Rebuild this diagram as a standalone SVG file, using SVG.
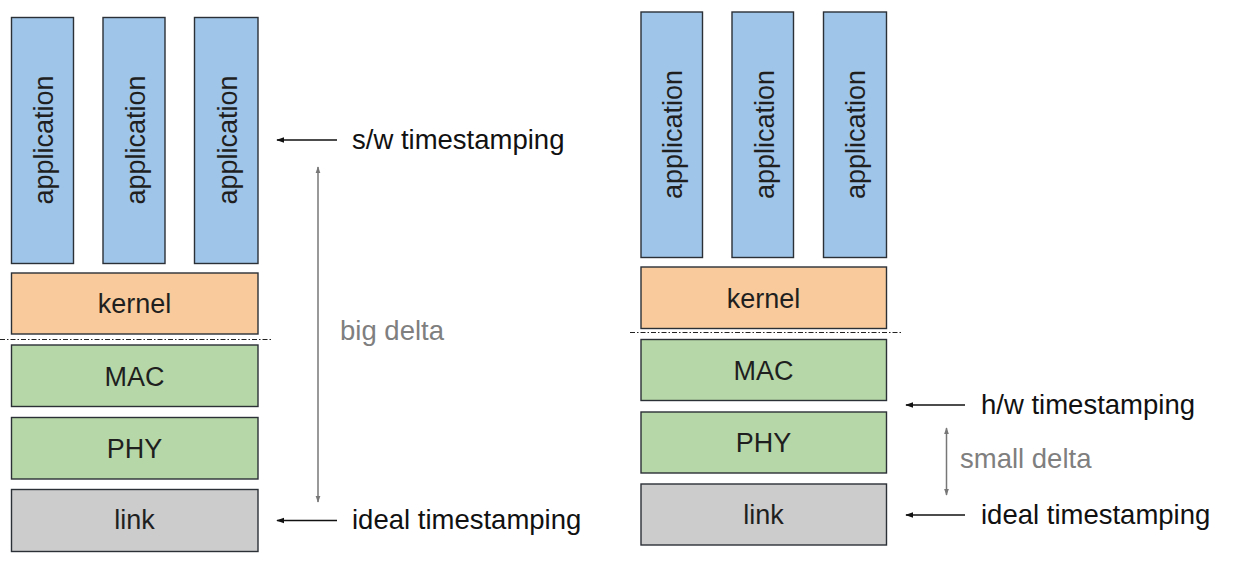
<svg xmlns="http://www.w3.org/2000/svg" width="1248" height="563" viewBox="0 0 1248 563">
<defs>
<style>
.box{stroke:#2b2f36;stroke-width:1.4}
.app{fill:#9fc5e8}
.kern{fill:#f9cb9c}
.green{fill:#b6d7a8}
.link{fill:#cccccc}
.lbl{font-family:"Liberation Sans",Arial,sans-serif;font-size:27px;fill:#1f1f1f;text-anchor:middle}
.note{font-family:"Liberation Sans",Arial,sans-serif;font-size:27.5px;fill:#111111}
.gray{font-family:"Liberation Sans",Arial,sans-serif;font-size:27.5px;fill:#7f7f7f}
.sep{stroke:#222;stroke-width:1.2;stroke-dasharray:5 2 1.5 2;fill:none}
.arr{stroke:#111;stroke-width:1.3;fill:none;marker-end:url(#ah)}
.delta{stroke:#777;stroke-width:1.5;fill:none;marker-start:url(#gh);marker-end:url(#gh)}
</style>
<marker id="ah" viewBox="0 0 10 10" refX="9" refY="5" markerWidth="8" markerHeight="8" markerUnits="userSpaceOnUse" orient="auto">
<path d="M0,1.5 L10,5 L0,8.5 Z" fill="#111"/>
</marker>
<marker id="gh" viewBox="0 0 10 10" refX="9" refY="5" markerWidth="7" markerHeight="7" markerUnits="userSpaceOnUse" orient="auto-start-reverse">
<path d="M0,1.5 L10,5 L0,8.5 Z" fill="#777"/>
</marker>
</defs>
<rect width="1248" height="563" fill="#ffffff"/>

<!-- Left stack -->
<g id="L-app1"><rect class="box app" x="11.5" y="17.5" width="62" height="246"/><text class="lbl" transform="translate(44,140) rotate(-90)" y="9">application</text></g>
<g id="L-app2"><rect class="box app" x="103" y="17.5" width="62" height="246"/><text class="lbl" transform="translate(136,140) rotate(-90)" y="9">application</text></g>
<g id="L-app3"><rect class="box app" x="194.5" y="17.5" width="63.5" height="246"/><text class="lbl" transform="translate(228,140) rotate(-90)" y="9">application</text></g>
<g id="L-kernel"><rect class="box kern" x="11.5" y="273" width="246.5" height="61"/><text class="lbl" x="134.5" y="313">kernel</text></g>
<g id="L-mac"><rect class="box green" x="11.5" y="345" width="246.5" height="61.5"/><text class="lbl" x="134.5" y="386">MAC</text></g>
<g id="L-phy"><rect class="box green" x="11.5" y="417.5" width="246.5" height="61.5"/><text class="lbl" x="134.5" y="458">PHY</text></g>
<g id="L-link"><rect class="box link" x="11.5" y="489.5" width="246.5" height="62"/><text class="lbl" x="134.5" y="529">link</text></g>

<!-- Right stack -->
<g id="R-app1"><rect class="box app" x="641" y="12" width="61.5" height="245.5"/><text class="lbl" transform="translate(673,134.5) rotate(-90)" y="9">application</text></g>
<g id="R-app2"><rect class="box app" x="732" y="12" width="61.5" height="245.5"/><text class="lbl" transform="translate(764.5,134.5) rotate(-90)" y="9">application</text></g>
<g id="R-app3"><rect class="box app" x="823.5" y="12" width="63" height="245.5"/><text class="lbl" transform="translate(856,134.5) rotate(-90)" y="9">application</text></g>
<g id="R-kernel"><rect class="box kern" x="641" y="267" width="245.5" height="61.5"/><text class="lbl" x="763.5" y="308">kernel</text></g>
<g id="R-mac"><rect class="box green" x="641" y="339.5" width="245.5" height="61"/><text class="lbl" x="763.5" y="380">MAC</text></g>
<g id="R-phy"><rect class="box green" x="641" y="412" width="245.5" height="61"/><text class="lbl" x="763.5" y="452">PHY</text></g>
<g id="R-link"><rect class="box link" x="641" y="484" width="245.5" height="61"/><text class="lbl" x="763.5" y="524">link</text></g>

<!-- Labels -->
<g id="L-sw-label"><text class="note" x="352" y="149">s/w timestamping</text></g>
<g id="L-ideal-label"><text class="note" x="352" y="529">ideal timestamping</text></g>
<g id="L-delta-label"><text class="gray" x="340" y="340">big delta</text></g>
<g id="R-hw-label"><text class="note" x="981" y="414">h/w timestamping</text></g>
<g id="R-ideal-label"><text class="note" x="981" y="524">ideal timestamping</text></g>
<g id="R-delta-label"><text class="gray" x="960" y="468">small delta</text></g>

<!-- Connectors -->
<g id="connectors">
<line class="sep" x1="0" y1="339.5" x2="273" y2="339.5"/>
<line class="sep" x1="630" y1="332.5" x2="902" y2="332.5"/>
<line class="arr" x1="337" y1="140" x2="277" y2="140"/>
<line class="arr" x1="337" y1="520.5" x2="277" y2="520.5"/>
<line class="delta" x1="318" y1="167" x2="318" y2="502"/>
<line class="arr" x1="965" y1="405" x2="906" y2="405"/>
<line class="arr" x1="965" y1="515" x2="906" y2="515"/>
<line class="delta" x1="946.5" y1="428" x2="946.5" y2="495"/>
</g>
</svg>
